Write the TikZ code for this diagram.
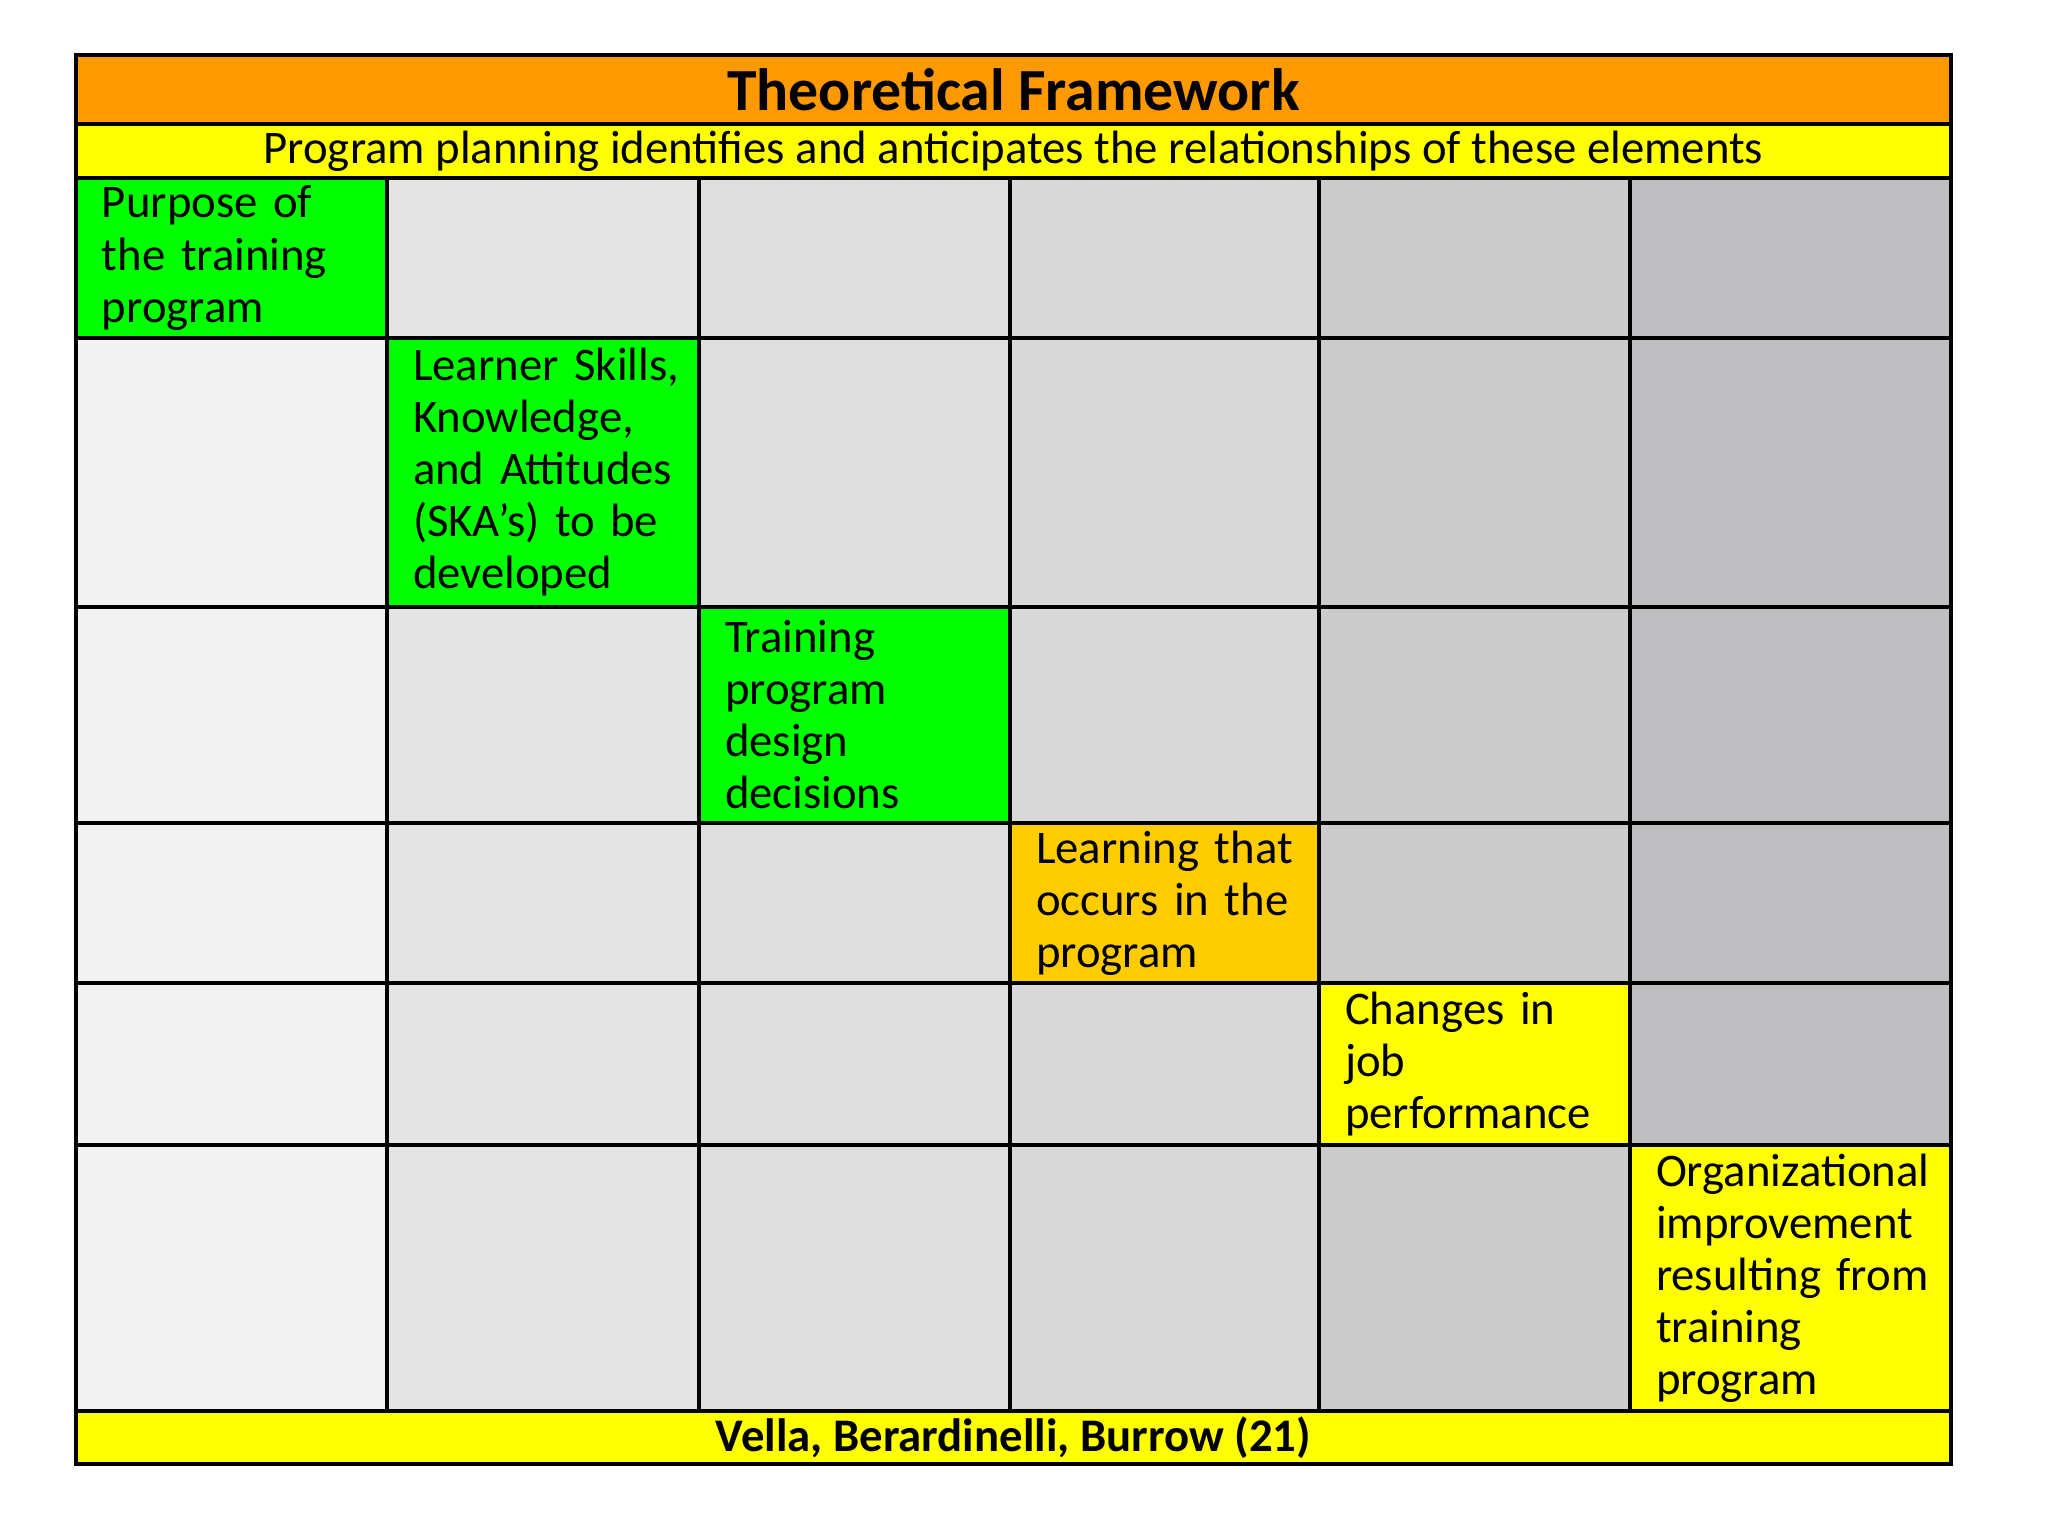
\documentclass[tikz,border=0pt]{standalone}
\usepackage{fontspec}
\setmainfont{Carlito}
\usepackage{tikz}
\usetikzlibrary{positioning}
\definecolor{barorange}{HTML}{FF9900}
\definecolor{baryellow}{HTML}{FFFF00}
\definecolor{cellgreen}{HTML}{00FF00}
\definecolor{cellamber}{HTML}{FFCC00}
\definecolor{grayA}{HTML}{F2F2F2}
\definecolor{grayB}{HTML}{E4E4E5}
\definecolor{grayC}{HTML}{DEDEDF}
\definecolor{grayD}{HTML}{D8D8D9}
\definecolor{grayE}{HTML}{CBCBCC}
\definecolor{grayF}{HTML}{BFBFC1}
\tikzstyle{bar} = [rectangle, draw, line width=1.1pt, outer sep=0pt, inner sep=0pt,
    minimum width=18.75cm, text centered]
\tikzstyle{element} = [rectangle, draw, line width=1pt, outer sep=0pt, inner sep=0pt,
    align=left, font=\fontsize{13.3}{14.8}\selectfont,
    execute at begin node={\leftskip=0.26cm}]
\tikzstyle{grid} = [draw, line width=1pt]

\begin{document}
\begin{tikzpicture}
		\useasboundingbox (0,0) rectangle (20.48,-15.36);
		% shaded columns
		\fill[grayA] (0.76,-1.78) rectangle (3.87,-14.11);
		\fill[grayB] (3.87,-1.78) rectangle (6.99,-14.11);
		\fill[grayC] (6.99,-1.78) rectangle (10.10,-14.11);
		\fill[grayD] (10.10,-1.78) rectangle (13.19,-14.11);
		\fill[grayE] (13.19,-1.78) rectangle (16.30,-14.11);
		\fill[grayF] (16.30,-1.78) rectangle (19.51,-14.11);
		\foreach \y in {-3.38,-6.07,-8.23,-9.83,-11.45}
			\path[grid] (0.76,\y) -- (19.51,\y);
		\foreach \x in {3.87,6.99,10.10,13.19,16.30}
			\path[grid] (\x,-1.78) -- (\x,-14.11);
		
		% header and footer
		\node [bar, fill=barorange, minimum height=0.69cm, anchor=north west,
			font=\fontsize{17}{20}\selectfont\bfseries] (title) at (0.76,-0.55) {Theoretical Framework};
		\node [bar, fill=baryellow, minimum height=0.54cm, below=0pt of title,
			font=\fontsize{13.3}{15}\selectfont] (subtitle) {Program planning identifies and anticipates the relationships of these elements};
		\node [bar, fill=baryellow, minimum height=0.53cm, anchor=north west,
			font=\fontsize{13.3}{15}\selectfont\bfseries] (source) at (0.76,-14.11) {Vella, Berardinelli, Burrow (21)};
		
		% node placement
		\node [element, fill=cellgreen, anchor=north west, text width=3.11cm,
			minimum width=3.11cm, minimum height=1.60cm] (purpose) at (0.76,-1.78) {Purpose of\\the training\\program};
		\node [element, fill=cellgreen, below right=0pt and 0pt of purpose, text width=3.12cm,
			minimum width=3.12cm, minimum height=2.69cm] (skills) {Learner Skills,\\Knowledge,\\and Attitudes\\(SKA’s) to be\\developed};
		\node [element, fill=cellgreen, below right=0pt and 0pt of skills, text width=3.11cm,
			minimum width=3.11cm, minimum height=2.16cm] (design) {Training\\program\\design\\decisions};
		\node [element, fill=cellamber, below right=0pt and 0pt of design, text width=3.09cm,
			minimum width=3.09cm, minimum height=1.60cm] (learning) {Learning that\\occurs in the\\program};
		\node [element, fill=baryellow, below right=0pt and 0pt of learning, text width=3.11cm,
			minimum width=3.11cm, minimum height=1.62cm] (performance) {Changes in\\job\\performance};
		\node [element, fill=baryellow, below right=0pt and 0pt of performance, text width=3.21cm,
			minimum width=3.21cm, minimum height=2.66cm] (improvement) {Organizational\\improvement\\resulting from\\training\\program};
		
		\draw[line width=1.3pt] (title.north west) rectangle (source.south east);
	\end{tikzpicture}
\end{document}
